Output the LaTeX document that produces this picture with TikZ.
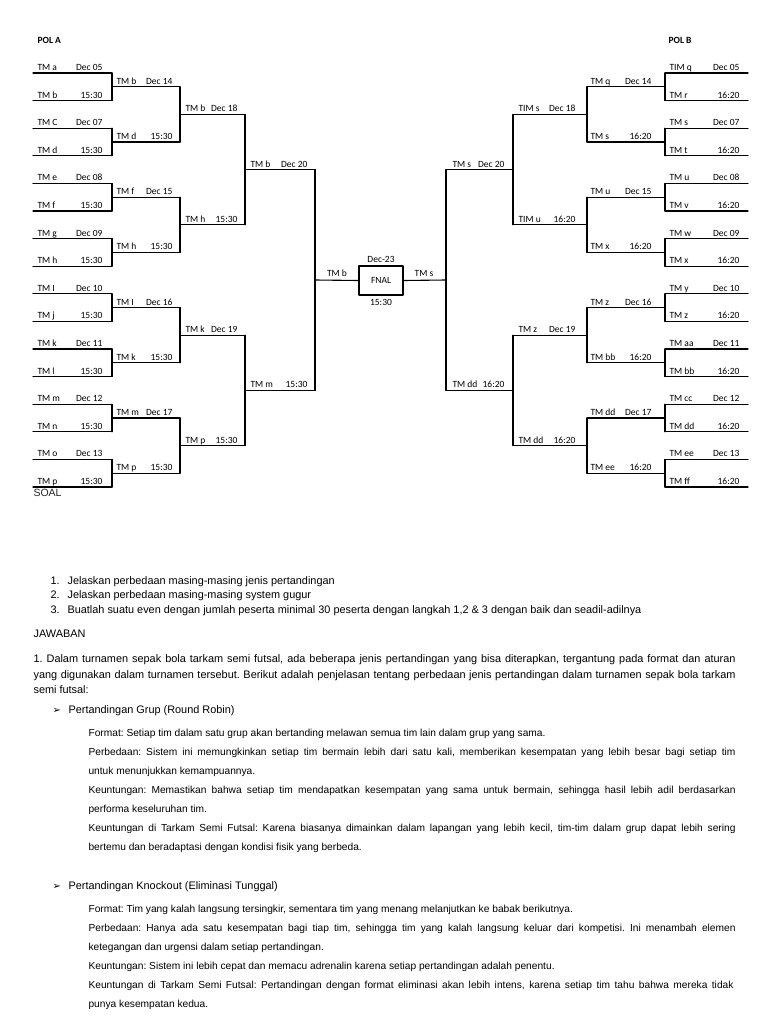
\documentclass[tikz,border=0pt]{standalone}
\usepackage{fontspec}
\setmainfont{Liberation Sans}
\newfontfamily\carlito{Carlito}
\newfontfamily\symfont{DejaVu Sans}
\newcommand\brkfont{\carlito\fontsize{9.5}{11}\selectfont}
\newcommand\txtfont{\fontsize{10.2}{12}\selectfont\frenchspacing}
\newcommand\bigtxtfont{\fontsize{10.9}{13}\selectfont\frenchspacing}
\tikzset{
  brk/.style={font=\brkfont, inner sep=0pt, anchor=base west},
  brkd/.style={font=\brkfont, inner sep=0pt, anchor=base east},
  txt/.style={font=\txtfont, inner sep=0pt, anchor=base west},
  bigtxt/.style={txt, font=\bigtxtfont},
  bullet/.style={txt, font=\symfont\fontsize{10}{12}\selectfont},
}
% one round of the bracket: prefix, x from, x to, joint x, step, name x, date x, list
\newcommand\bround[8]{%
  \foreach \n/\d [count=\i from 0] in {#8}{
    \pgfmathsetmacro\y{\yo+\dy*(#5*\i+(#5-1)/2)}
    \draw (#2,\y) -- (#3,\y);
    \ifodd\i \draw (#4,\y) -- (#4,\y-#5*\dy); \fi
    \node[brk] (#1n\i) at (#6,\y-2.5) {\n};
    \node[brkd] (#1d\i) at (#7,\y-2.5) {\d};
  }}
\begin{document}
\begin{tikzpicture}[x=1pt, y=-1pt, line width=1.1pt, line cap=round, line join=round]
  \def\yo{73} \def\dy{27.6}
  \fill[white] (0,0) rectangle (768,1024);
  \useasboundingbox (0,0) rectangle (768,1024);
  \node[brk, font=\brkfont\bfseries] (pola) at (37,44) {POL A};
  \node[brk, font=\brkfont\bfseries] (polb) at (668,44) {POL B};
  % pool A
  \bround{la}{33}{112}{112}{1}{37}{103}{TM a/Dec 05, TM b/15:30, TM C/Dec 07, TM d/15:30,
    TM e/Dec 08, TM f/15:30, TM g/Dec 09, TM h/15:30, TM I/Dec 10, TM j/15:30,
    TM k/Dec 11, TM l/15:30, TM m/Dec 12, TM n/15:30, TM o/Dec 13, TM p/15:30}
  \bround{lb}{112}{180}{180}{2}{116}{173}{TM b/Dec 14, TM d/15:30, TM f/Dec 15, TM h/15:30,
    TM I/Dec 16, TM k/15:30, TM m/Dec 17, TM p/15:30}
  \bround{lc}{180}{245}{245}{4}{185}{238}{TM b/Dec 18, TM h/15:30, TM k/Dec 19, TM p/15:30}
  \bround{ld}{245}{315}{315}{8}{250}{308}{TM  b/Dec 20, TM m/15:30}
  % pool B
  \bround{ra}{665}{748}{665}{1}{669}{740}{TIM q/Dec 05, TM r/16:20, TM s/Dec 07, TM t/16:20,
    TM u/Dec 08, TM v/16:20, TM w/Dec 09, TM x/16:20, TM y/Dec 10, TM z/16:20,
    TM aa/Dec 11, TM bb/16:20, TM cc/Dec 12, TM dd/16:20, TM ee/Dec 13, TM ff/16:20}
  \bround{rb}{587}{665}{587}{2}{590}{652}{TM q/Dec 14, TM s/16:20, TM u/Dec 15, TM x/16:20,
    TM z/Dec 16, TM bb/16:20, TM dd/Dec 17, TM ee/16:20}
  \bround{rc}{513}{587}{513}{4}{518}{576}{TIM s/Dec 18, TIM u/16:20, TM z/Dec 19, TM dd/16:20}
  \bround{rd}{446}{513}{446}{8}{452}{505}{TM s/Dec 20, TM dd/16:20}
  % final
  \node[draw, font=\brkfont, minimum width=44pt, minimum height=29pt, inner sep=0pt] (final) at (381,280.5) {FNAL};
  \coordinate (fl) at (315,280);
  \coordinate (fr) at (446,280);
  \draw (fl) -- (final.west);
  \draw (final.east) -- (fr);
  \node[brk, anchor=base] (fdate) at (381,262) {Dec-23};
  \node[brk, anchor=base] (ftime) at (381,305) {15:30};
  \node[brk, anchor=base] (fa) at (337,276.5) {TM b};
  \node[brk, anchor=base] (fb) at (424,276.5) {TM s};
  \node[txt, font=\fontsize{10.5}{12}\selectfont, text=black!85] (soal) at (33,496) {SOAL};
  % questions
  \node[bigtxt] (q1n) at (50,584.5) {1.};
  \node[bigtxt] (q1) at (67,584.5) {Jelaskan perbedaan masing-masing jenis pertandingan};
  \node[bigtxt] (q2n) at (50,598.5) {2.};
  \node[bigtxt] (q2) at (67,598.5) {Jelaskan perbedaan masing-masing system gugur};
  \node[bigtxt] (q3n) at (50,613.5) {3.};
  \node[bigtxt] (q3) at (67,613.5) {Buatlah suatu even dengan jumlah peserta minimal 30 peserta dengan langkah 1,2 \& 3 dengan baik dan seadil-adilnya};
  \node[bigtxt] (jaw) at (33,637.5) {JAWABAN};
  \node[bigtxt] (p1) at (33,662.5) {\makebox[702pt][s]{1. Dalam turnamen sepak bola tarkam semi futsal, ada beberapa jenis pertandingan yang bisa diterapkan, tergantung pada format dan aturan}};
  \node[bigtxt] (p2) at (33,678.5) {\makebox[702pt][s]{yang digunakan dalam turnamen tersebut. Berikut adalah penjelasan tentang perbedaan jenis pertandingan dalam turnamen sepak bola tarkam}};
  \node[bigtxt] (p3) at (33,693.5) {semi futsal:};
  % round robin
  \node[bullet] (b1) at (52,713.5) {➢};
  \node[bigtxt] (h1) at (68,713.5) {Pertandingan Grup (Round Robin)};
  \node[txt] (a1) at (88,736.5) {Format: Setiap tim dalam satu grup akan bertanding melawan semua tim lain dalam grup yang sama.};
  \node[txt] (a2) at (88,755.5) {\makebox[647pt][s]{Perbedaan: Sistem ini memungkinkan setiap tim bermain lebih dari satu kali, memberikan kesempatan yang lebih besar bagi setiap tim}};
  \node[txt] (a3) at (88,774.5) {untuk menunjukkan kemampuannya.};
  \node[txt] (a4) at (88,793.5) {\makebox[647pt][s]{Keuntungan: Memastikan bahwa setiap tim mendapatkan kesempatan yang sama untuk bermain, sehingga hasil lebih adil berdasarkan}};
  \node[txt] (a5) at (88,812.5) {performa keseluruhan tim.};
  \node[txt] (a6) at (88,831.5) {\makebox[647pt][s]{Keuntungan di Tarkam Semi Futsal: Karena biasanya dimainkan dalam lapangan yang lebih kecil, tim-tim dalam grup dapat lebih sering}};
  \node[txt] (a7) at (88,850.5) {bertemu dan beradaptasi dengan kondisi fisik yang berbeda.};
  % knockout
  \node[bullet] (b2) at (52,889.5) {➢};
  \node[bigtxt] (h2) at (68,889.5) {Pertandingan Knockout (Eliminasi Tunggal)};
  \node[txt] (k1) at (88,912.5) {Format: Tim yang kalah langsung tersingkir, sementara tim yang menang melanjutkan ke babak berikutnya.};
  \node[txt] (k2) at (88,931.5) {\makebox[647pt][s]{Perbedaan: Hanya ada satu kesempatan bagi tiap tim, sehingga tim yang kalah langsung keluar dari kompetisi. Ini menambah elemen}};
  \node[txt] (k3) at (88,950.5) {ketegangan dan urgensi dalam setiap pertandingan.};
  \node[txt] (k4) at (88,969.5) {Keuntungan: Sistem ini lebih cepat dan memacu adrenalin karena setiap pertandingan adalah penentu.};
  \node[txt] (k5) at (88,988.5) {\makebox[645pt][s]{Keuntungan di Tarkam Semi Futsal: Pertandingan dengan format eliminasi akan lebih intens, karena setiap tim tahu bahwa mereka tidak}};
  \node[txt] (k6) at (88,1007.5) {punya kesempatan kedua.};
\end{tikzpicture}
\end{document}
